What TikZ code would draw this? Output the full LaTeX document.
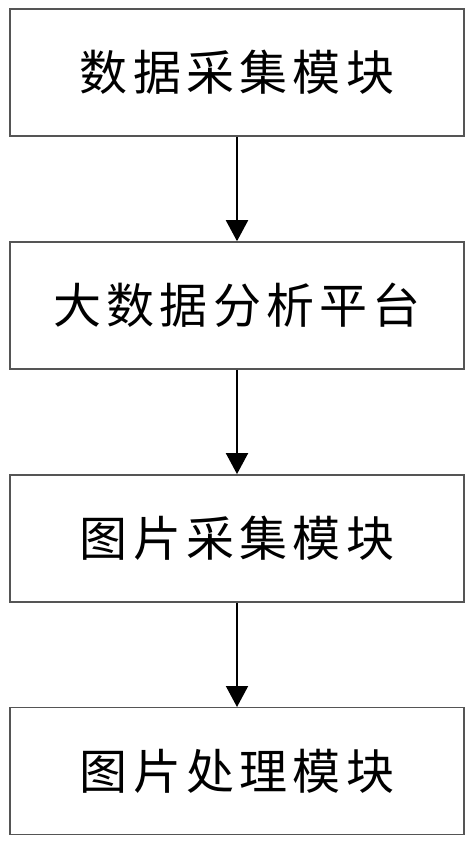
\documentclass[tikz,border=0pt]{standalone}
\usepackage{fontspec}
\newfontfamily\cjk[LetterSpace=11]{Noto Sans CJK SC}
\usetikzlibrary{positioning,arrows.meta}
\definecolor{frame}{HTML}{555555}
\tikzset{
  module/.style={
    draw=frame,
    line width=1.4pt,
    minimum width=454pt,
    minimum height=127pt,
    inner sep=0pt,
    text=black,
    fill=none,
    font=\cjk\fontsize{48}{52}\selectfont
  },
  flow/.style={
    draw=black,
    line width=2pt,
    -{Triangle[width=22pt,length=21pt]}
  }
}
\begin{document}
\begin{tikzpicture}
  \useasboundingbox (0,0) rectangle (474pt,-845pt);
  \node[module] (collect) at (237pt,-72.5pt) {数据采集模块};
  \node[module, below=104.5pt of collect] (platform) {大数据分析平台};
  \node[module, below=104.5pt of platform] (picture) {图片采集模块};
  \node[module, below=104.5pt of picture] (process) {图片处理模块};

  \draw[flow] (collect) -- (platform);
  \draw[flow] (platform) -- (picture);
  \draw[flow] (picture) -- (process);
\end{tikzpicture}
\end{document}
